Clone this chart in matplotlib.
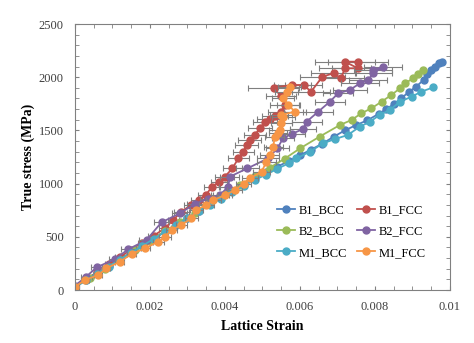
import matplotlib
matplotlib.use('Agg')
from matplotlib import pyplot as plt
from matplotlib.ticker import MultipleLocator

plt.rcParams['font.family'] = ['Liberation Serif', 'DejaVu Serif']

# lattice strain / true stress for each phase
b1_bcc_x = [0, 0.0003, 0.0006, 0.0009, 0.0012, 0.0015, 0.0018, 0.0021, 0.0024, 0.0027, 0.003, 0.0033, 0.0036,
            0.0039, 0.0042, 0.0045, 0.0048, 0.0051, 0.0054, 0.0057, 0.006, 0.0063, 0.0066, 0.0069, 0.0072, 0.0075,
            0.0078, 0.0081, 0.0083, 0.0085, 0.0087, 0.0089, 0.0091, 0.0093, 0.0094, 0.0095, 0.0096, 0.0097, 0.0098]
b1_bcc_y = [30, 95, 160, 225, 290, 355, 420, 485, 550, 615, 680, 745, 805, 865, 930, 990, 1050, 1105, 1160, 1210,
            1265, 1320, 1375, 1440, 1500, 1550, 1595, 1655, 1700, 1745, 1800, 1860, 1910, 1975, 2030, 2070, 2100,
            2130, 2140]

b2_bcc_x = [0, 0.0004, 0.0008, 0.0012, 0.0016, 0.002, 0.0024, 0.0028, 0.0032, 0.0036, 0.004, 0.0044, 0.0048,
            0.0052, 0.0056, 0.006, 0.00653, 0.00707, 0.00738, 0.00764, 0.00791, 0.00818, 0.00844, 0.00867, 0.0088,
            0.00902, 0.00915, 0.00928]
b2_bcc_y = [30, 115, 200, 285, 375, 465, 550, 640, 725, 810, 900, 985, 1070, 1150, 1235, 1330, 1442, 1551, 1598,
            1661, 1708, 1770, 1833, 1895, 1942, 1989, 2030, 2068]

m1_bcc_x = [0, 0.0003, 0.0006, 0.0009, 0.0012, 0.0015, 0.0018, 0.0021, 0.0024, 0.0027, 0.003, 0.0033, 0.0036,
            0.0039, 0.0042, 0.0045, 0.0048, 0.0051, 0.0054, 0.0057, 0.00591, 0.00627, 0.00662, 0.00695, 0.00728,
            0.0076, 0.00787, 0.00813, 0.0084, 0.00867, 0.00898, 0.00924, 0.00956]
m1_bcc_y = [25, 90, 155, 220, 285, 350, 415, 480, 545, 610, 675, 740, 800, 860, 920, 980, 1035, 1085, 1140, 1190,
            1237, 1300, 1379, 1420, 1457, 1535, 1582, 1645, 1692, 1770, 1817, 1864, 1905]

b1_fcc_x = [0, 0.0003, 0.0006, 0.0009, 0.0012, 0.0015, 0.0018, 0.0021, 0.0024, 0.00262, 0.00284, 0.0031, 0.0033,
            0.00349, 0.00366, 0.00385, 0.004, 0.0042, 0.00436, 0.00449, 0.00458, 0.00466, 0.0048, 0.00493, 0.00507,
            0.0052, 0.00533, 0.0055, 0.0056, 0.0055, 0.0053, 0.0058, 0.0061, 0.0063, 0.0066, 0.0069, 0.0071, 0.0072,
            0.00755, 0.0072, 0.00755]
b1_fcc_y = [30, 100, 170, 240, 310, 380, 445, 510, 580, 658, 736, 800, 850, 893, 971, 1018, 1065, 1143, 1237,
            1300, 1363, 1410, 1457, 1519, 1582, 1610, 1640, 1676, 1740, 1820, 1902, 1927, 1927, 1864, 2005, 2037,
            1990, 2084, 2084, 2146, 2146]
b1_fcc_err = [0.0001, 0.0001, 0.0001, 0.0001, 0.00012, 0.00012, 0.00012, 0.00015, 0.00015, 0.00015, 0.0002, 0.0002,
              0.0002, 0.0002, 0.00022, 0.00022, 0.00025, 0.00025, 0.00028, 0.00028, 0.0003, 0.0003, 0.0003, 0.00032,
              0.00032, 0.00035, 0.00035, 0.00035, 0.0004, 0.0004, 0.00067, 0.0005, 0.0005, 0.0005, 0.0006, 0.0006,
              0.0006, 0.0007, 0.0007, 0.0008, 0.0008]

b2_fcc_x = [0, 0.0003, 0.00058, 0.00107, 0.00142, 0.00191, 0.00231, 0.0028, 0.0032, 0.00355, 0.00387, 0.00409,
            0.00413, 0.0046, 0.00515, 0.0054, 0.00555, 0.0058, 0.00609, 0.00618, 0.00649, 0.0068, 0.00702, 0.00733,
            0.0076, 0.00782, 0.00796, 0.00822, 0.00795]
b2_fcc_y = [40, 125, 213, 291, 382, 470, 636, 721, 808, 860, 893, 971, 1065, 1143, 1237, 1330, 1425, 1470, 1513,
            1582, 1676, 1770, 1848, 1880, 1942, 1973, 2037, 2098, 2068]
b2_fcc_err = [0.0001, 0.00015, 0.00015, 0.00015, 0.0002, 0.0002, 0.0002, 0.0002, 0.00022, 0.00022, 0.00025, 0.00025,
              0.00025, 0.0003, 0.0003, 0.0003, 0.0003, 0.00035, 0.00035, 0.0004, 0.0004, 0.0004, 0.0004, 0.00045,
              0.0005, 0.0005, 0.0005, 0.0005, 0.0005]

m1_fcc_x = [0, 0.00027, 0.00062, 0.00084, 0.0012, 0.00151, 0.00187, 0.00222, 0.0024, 0.00258, 0.00284, 0.00311,
            0.00324, 0.0035, 0.00369, 0.004, 0.00427, 0.0045, 0.00467, 0.00498, 0.00511, 0.0052, 0.00529, 0.00533,
            0.00542, 0.00547, 0.00551, 0.00556, 0.0055, 0.00587, 0.00569, 0.00555, 0.00565, 0.00573]
m1_fcc_y = [30, 94, 141, 204, 266, 338, 391, 454, 500, 564, 611, 674, 752, 800, 846, 890, 940, 1000, 1050, 1112,
            1206, 1269, 1347, 1441, 1480, 1504, 1567, 1629, 1645, 1676, 1739, 1802, 1864, 1911]
m1_fcc_err = [0.0001, 0.0001, 0.0001, 0.0001, 0.00012, 0.00012, 0.00012, 0.00015, 0.00015, 0.00015, 0.00015,
              0.00018, 0.00018, 0.0002, 0.0002, 0.0002, 0.0002, 0.0002, 0.00022, 0.00022, 0.00025, 0.00025, 0.00025,
              0.00025, 0.00025, 0.00028, 0.00028, 0.0003, 0.0003, 0.0003, 0.0003, 0.0003, 0.0003, 0.0003]

fig = plt.figure(figsize=(4.74, 3.43), dpi=100)
ax = fig.add_axes([0.158, 0.1545, 0.791, 0.7755])

# horizontal error bars only, the lines go on top with the labels
ebar = dict(fmt='none', ecolor='#7f7f7f', elinewidth=0.8, capsize=2.2, capthick=0.8)
line = dict(marker='o', ms=5, lw=1.3)

ax.plot(b1_bcc_x, b1_bcc_y, color='#4F81BD', label='B1_BCC', **line)
ax.errorbar(b1_fcc_x, b1_fcc_y, xerr=b1_fcc_err, **ebar)
ax.plot(b1_fcc_x, b1_fcc_y, color='#C0504D', label='B1_FCC', **line)
ax.plot(b2_bcc_x, b2_bcc_y, color='#9BBB59', label='B2_BCC', **line)
ax.errorbar(b2_fcc_x, b2_fcc_y, xerr=b2_fcc_err, **ebar)
ax.plot(b2_fcc_x, b2_fcc_y, color='#8064A2', label='B2_FCC', **line)
ax.plot(m1_bcc_x, m1_bcc_y, color='#4BACC6', label='M1_BCC', **line)
ax.errorbar(m1_fcc_x, m1_fcc_y, xerr=m1_fcc_err, **ebar)
ax.plot(m1_fcc_x, m1_fcc_y, color='#F79646', label='M1_FCC', **line)

ax.set_xlim(0, 0.01)
ax.set_ylim(0, 2500)
ax.xaxis.set_minor_locator(MultipleLocator(0.0005))
ax.yaxis.set_major_locator(MultipleLocator(500))
ax.yaxis.set_minor_locator(MultipleLocator(100))
ax.set_xticks([0, 0.002, 0.004, 0.006, 0.008, 0.01])
ax.set_xticklabels(['0', '0.002', '0.004', '0.006', '0.008', '0.01'])
ax.tick_params(which='both', direction='in', top=True, right=True, labelsize=9, colors='#404040', pad=8,
               length=3)
ax.tick_params(which='both', color='#808080')
for s in ax.spines.values():
    s.set_color('#808080')

ax.set_xlabel('Lattice Strain', fontsize=10, fontweight='bold', labelpad=5)
ax.set_ylabel('True stress (MPa)', fontsize=10, fontweight='bold', labelpad=3)

# legend fills column by column: BCC on the left, FCC on the right
h, l = ax.get_legend_handles_labels()
order = [0, 2, 4, 1, 3, 5]
ax.legend([h[i] for i in order], [l[i] for i in order], ncol=2, frameon=False, fontsize=9,
          loc='lower right', bbox_to_anchor=(0.965, 0.075),
          handlelength=1.4, handletextpad=0.3, columnspacing=0.8, labelspacing=0.75)

fig.savefig('out.png', dpi=100)
